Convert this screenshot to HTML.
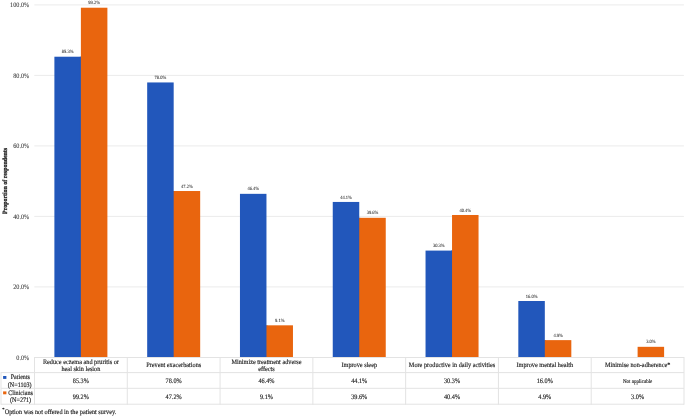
<!DOCTYPE html>
<html><head><meta charset="utf-8"><title>Chart</title>
<style>
html,body{margin:0;padding:0;background:#fff;width:685px;height:416px;overflow:hidden}
svg{display:block}
text{text-rendering:geometricPrecision;font-family:"Liberation Serif","Times New Roman",serif;fill:#1a1a1a;stroke:#1a1a1a;stroke-width:0.13px}
.yl{font-size:6.25px;fill:#333;stroke:#333;stroke-width:0.06px}
.yt{font-size:5.92px;font-weight:bold;fill:#111;stroke:#111;stroke-width:0.2px}
.dl{font-size:4.5px;fill:#3a3a3a;stroke:#3a3a3a;stroke-width:0.08px}
.tc{font-size:6.25px}
.na{font-size:5px;stroke-width:0.12px}
.fs{font-size:4.5px}
.fn{font-size:6.27px}
.lg{font-size:6.1px}
</style></head>
<body>
<svg width="685" height="416" viewBox="0 0 685 416">
<rect width="685" height="416" fill="#fff"/>
<rect x="34.3" y="286.4" width="649.6" height="1" fill="#ebebeb"/>
<rect x="34.3" y="215.9" width="649.6" height="1" fill="#ebebeb"/>
<rect x="34.3" y="145.4" width="649.6" height="1" fill="#ebebeb"/>
<rect x="34.3" y="74.9" width="649.6" height="1" fill="#ebebeb"/>
<rect x="34.3" y="4.4" width="649.6" height="1" fill="#ebebeb"/>
<text transform="translate(29.3,359.5) scale(1,1.1)" text-anchor="end" class="yl">0.0%</text>
<text transform="translate(29.3,289) scale(1,1.1)" text-anchor="end" class="yl">20.0%</text>
<text transform="translate(29.3,218.5) scale(1,1.1)" text-anchor="end" class="yl">40.0%</text>
<text transform="translate(29.3,148) scale(1,1.1)" text-anchor="end" class="yl">60.0%</text>
<text transform="translate(29.3,77.5) scale(1,1.1)" text-anchor="end" class="yl">80.0%</text>
<text transform="translate(29.3,7) scale(1,1.1)" text-anchor="end" class="yl">100.0%</text>
<text transform="translate(7.4,180.9) rotate(-90) scale(1,1.1)" text-anchor="middle" class="yt">Proportion of respondents</text>
<rect x="54.39" y="56.72" width="26.5" height="300.28" fill="#2257bb"/>
<rect x="79.89" y="56.72" width="2" height="300.28" fill="#2257bb"/>
<text transform="translate(67.64,53.27) scale(1,1.1)" text-anchor="middle" class="dl">85.3%</text>
<rect x="80.89" y="7.72" width="26.5" height="349.28" fill="#e9650e"/>
<text transform="translate(94.14,4.27) scale(1,1.1)" text-anchor="middle" class="dl">99.2%</text>
<rect x="147.18" y="82.45" width="26.5" height="274.55" fill="#2257bb"/>
<rect x="172.68" y="191.02" width="2" height="165.98" fill="#2257bb"/>
<text transform="translate(160.43,79) scale(1,1.1)" text-anchor="middle" class="dl">78.0%</text>
<rect x="173.68" y="191.02" width="26.5" height="165.98" fill="#e9650e"/>
<text transform="translate(186.93,187.57) scale(1,1.1)" text-anchor="middle" class="dl">47.2%</text>
<rect x="239.96" y="193.84" width="26.5" height="163.16" fill="#2257bb"/>
<rect x="265.46" y="325.32" width="2" height="31.68" fill="#2257bb"/>
<text transform="translate(253.21,190.39) scale(1,1.1)" text-anchor="middle" class="dl">46.4%</text>
<rect x="266.46" y="325.32" width="26.5" height="31.68" fill="#e9650e"/>
<text transform="translate(279.71,321.87) scale(1,1.1)" text-anchor="middle" class="dl">9.1%</text>
<rect x="332.75" y="201.95" width="26.5" height="155.05" fill="#2257bb"/>
<rect x="358.25" y="217.81" width="2" height="139.19" fill="#2257bb"/>
<text transform="translate(346,198.5) scale(1,1.1)" text-anchor="middle" class="dl">44.1%</text>
<rect x="359.25" y="217.81" width="26.5" height="139.19" fill="#e9650e"/>
<text transform="translate(372.5,214.36) scale(1,1.1)" text-anchor="middle" class="dl">39.6%</text>
<rect x="425.54" y="250.59" width="26.5" height="106.41" fill="#2257bb"/>
<rect x="451.04" y="250.59" width="2" height="106.41" fill="#2257bb"/>
<text transform="translate(438.79,247.14) scale(1,1.1)" text-anchor="middle" class="dl">30.3%</text>
<rect x="452.04" y="214.99" width="26.5" height="142.01" fill="#e9650e"/>
<text transform="translate(465.29,211.54) scale(1,1.1)" text-anchor="middle" class="dl">40.4%</text>
<rect x="518.32" y="301" width="26.5" height="56" fill="#2257bb"/>
<rect x="543.82" y="340.13" width="2" height="16.87" fill="#2257bb"/>
<text transform="translate(531.57,297.55) scale(1,1.1)" text-anchor="middle" class="dl">16.0%</text>
<rect x="544.82" y="340.13" width="26.5" height="16.87" fill="#e9650e"/>
<text transform="translate(558.07,336.68) scale(1,1.1)" text-anchor="middle" class="dl">4.9%</text>
<rect x="637.61" y="346.82" width="26.5" height="10.18" fill="#e9650e"/>
<text transform="translate(650.86,343.38) scale(1,1.1)" text-anchor="middle" class="dl">3.0%</text>
<rect x="34.5" y="357" width="649.5" height="1" fill="#e3e3e3"/>
<rect x="1" y="372.1" width="683" height="1" fill="#e3e3e3"/>
<rect x="1" y="387.8" width="683" height="1" fill="#e3e3e3"/>
<rect x="1" y="403.7" width="683" height="1" fill="#e3e3e3"/>
<rect x="0.5" y="372.1" width="1" height="32.6" fill="#e3e3e3"/>
<rect x="34" y="357" width="1" height="47.7" fill="#e3e3e3"/>
<rect x="126.79" y="357" width="1" height="47.7" fill="#e3e3e3"/>
<rect x="219.57" y="357" width="1" height="47.7" fill="#e3e3e3"/>
<rect x="312.36" y="357" width="1" height="47.7" fill="#e3e3e3"/>
<rect x="405.14" y="357" width="1" height="47.7" fill="#e3e3e3"/>
<rect x="497.93" y="357" width="1" height="47.7" fill="#e3e3e3"/>
<rect x="590.71" y="357" width="1" height="47.7" fill="#e3e3e3"/>
<rect x="683.5" y="357" width="1" height="47.7" fill="#e3e3e3"/>
<text transform="translate(80.89,363.8) scale(1,1.1)" text-anchor="middle" class="tc">Reduce eczema and pruritis or</text>
<text transform="translate(80.89,371) scale(1,1.1)" text-anchor="middle" class="tc">heal skin lesion</text>
<text transform="translate(173.68,367.1) scale(1,1.1)" text-anchor="middle" class="tc">Prevent exacerbations</text>
<text transform="translate(266.46,363.8) scale(1,1.1)" text-anchor="middle" class="tc">Minimize treatment adverse</text>
<text transform="translate(266.46,371) scale(1,1.1)" text-anchor="middle" class="tc">effects</text>
<text transform="translate(359.25,367.1) scale(1,1.1)" text-anchor="middle" class="tc">Improve sleep</text>
<text transform="translate(452.04,367.1) scale(1,1.1)" text-anchor="middle" class="tc">More productive in daily activities</text>
<text transform="translate(544.82,367.1) scale(1,1.1)" text-anchor="middle" class="tc">Improve mental health</text>
<text transform="translate(637.61,367.1) scale(1,1.1)" text-anchor="middle" class="tc">Minimise non-adherence*</text>
<text transform="translate(80.89,382.8) scale(1,1.1)" text-anchor="middle" class="tc">85.3%</text>
<text transform="translate(80.89,398.5) scale(1,1.1)" text-anchor="middle" class="tc">99.2%</text>
<text transform="translate(173.68,382.8) scale(1,1.1)" text-anchor="middle" class="tc">78.0%</text>
<text transform="translate(173.68,398.5) scale(1,1.1)" text-anchor="middle" class="tc">47.2%</text>
<text transform="translate(266.46,382.8) scale(1,1.1)" text-anchor="middle" class="tc">46.4%</text>
<text transform="translate(266.46,398.5) scale(1,1.1)" text-anchor="middle" class="tc">9.1%</text>
<text transform="translate(359.25,382.8) scale(1,1.1)" text-anchor="middle" class="tc">44.1%</text>
<text transform="translate(359.25,398.5) scale(1,1.1)" text-anchor="middle" class="tc">39.6%</text>
<text transform="translate(452.04,382.8) scale(1,1.1)" text-anchor="middle" class="tc">30.3%</text>
<text transform="translate(452.04,398.5) scale(1,1.1)" text-anchor="middle" class="tc">40.4%</text>
<text transform="translate(544.82,382.8) scale(1,1.1)" text-anchor="middle" class="tc">16.0%</text>
<text transform="translate(544.82,398.5) scale(1,1.1)" text-anchor="middle" class="tc">4.9%</text>
<text transform="translate(637.61,383) scale(1,1.1)" text-anchor="middle" class="na">Not applicable</text>
<text transform="translate(637.61,398.5) scale(1,1.1)" text-anchor="middle" class="tc">3.0%</text>
<rect x="3.1" y="376" width="3.3" height="2.9" fill="#2257bb"/>
<text transform="translate(20.3,379) scale(1,1.1)" text-anchor="middle" class="lg">Patients</text>
<text transform="translate(19.7,386.7) scale(1,1.1)" text-anchor="middle" class="lg">(N=1103)</text>
<rect x="3.1" y="391.4" width="3.3" height="2.9" fill="#e9650e"/>
<text transform="translate(20.5,394.5) scale(1,1.1)" text-anchor="middle" class="lg">Clinicians</text>
<text transform="translate(20.6,401.9) scale(1,1.1)" text-anchor="middle" class="lg">(N=271)</text>
<text transform="translate(2.2,410.6) scale(1,1.1)" class="fs">*</text>
<text transform="translate(4.7,413.7) scale(1,1.1)" class="fn">Option was not offered in the patient survey.</text>
</svg>
</body></html>
